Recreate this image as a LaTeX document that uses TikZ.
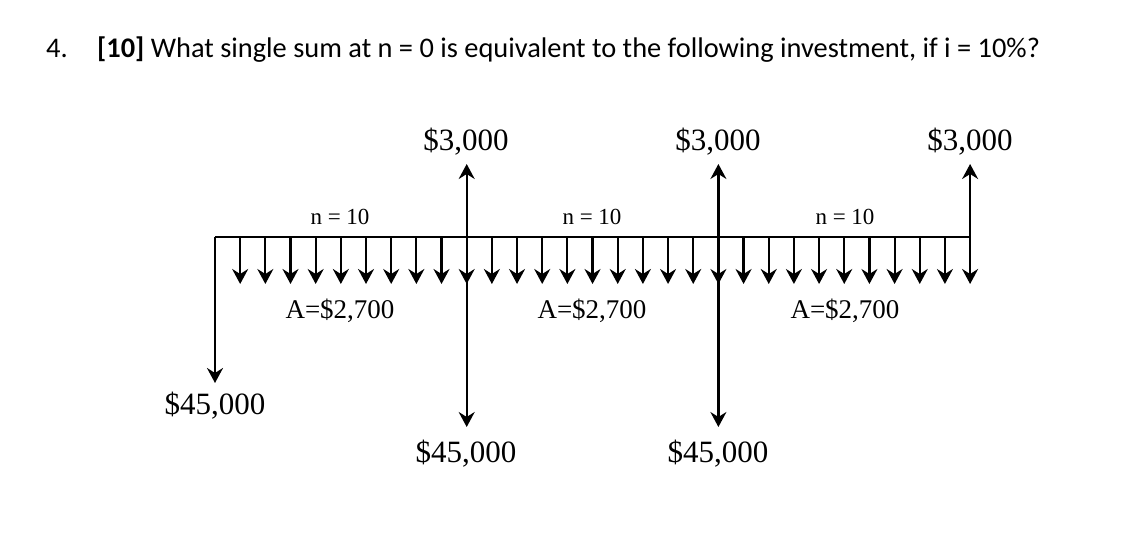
\documentclass[tikz,border=0pt]{standalone}
\usepackage{fontspec}
\setmainfont{Liberation Serif}
\newfontfamily\carlito{Carlito}
\usetikzlibrary{arrows.meta}
\begin{document}
\begin{tikzpicture}[x=1pt,y=-1pt,
  flow/.style={line width=2.2pt,-{Stealth[length=15pt,width=16pt,inset=5pt]}},
  axis/.style={line width=2pt},
  big/.style={font=\fontsize{31}{31}\selectfont,inner sep=0pt,anchor=base},
  mid/.style={font=\fontsize{27}{27}\selectfont,inner sep=0pt,anchor=base},
  small/.style={font=\fontsize{23}{23}\selectfont,inner sep=0pt,anchor=base},
  title/.style={font=\carlito\fontsize{28.4}{28.4}\selectfont,inner sep=0pt,anchor=base west}]
\useasboundingbox (0,0) rectangle (1146,559);
\fill[white] (0,0) rectangle (1146,559);
% title
\node[title] (num) at (46,58) {4.};
\node[title] (q) at (97,58) {\textbf{[10]} What single sum at n = 0 is equivalent to the following investment, if i = 10\%?};
% timeline points
\foreach \i in {0,...,30} {\coordinate (t\i) at ({215+25.17*\i},237);}
\draw[axis] (t0) -- (t30);
% small downward annuity arrows
\foreach \i in {1,...,30} {
  \coordinate (a\i) at ({215+25.17*\i},284);
  \draw[flow] (t\i) -- (a\i);
}
% big downward arrows
\coordinate (d0) at (215,383);
\draw[flow] (t0) -- (d0);
\coordinate (d10) at ({215+25.17*10},427);
\coordinate (d20) at ({215+25.17*20},427);
\draw[flow] (t10) -- (d10);
\draw[flow] (t20) -- (d20);
% upward arrows
\coordinate (u10) at ({215+25.17*10},164);
\coordinate (u20) at ({215+25.17*20},164);
\coordinate (u30) at ({215+25.17*30},164);
\draw[flow] (t10) -- (u10);
\draw[flow] (t20) -- (u20);
\draw[flow] (t30) -- (u30);
% labels
\node[big] (p1) at (466,150) {\$3,000};
\node[big] (p2) at (718,150) {\$3,000};
\node[big] (p3) at (970,150) {\$3,000};
\node[small] (n1) at (340,224) {n = 10};
\node[small] (n2) at (592,224) {n = 10};
\node[small] (n3) at (845,224) {n = 10};
\node[mid] (A1) at (340,318) {A=\$2,700};
\node[mid] (A2) at (592,318) {A=\$2,700};
\node[mid] (A3) at (845,318) {A=\$2,700};
\node[big] (c0) at (215,414) {\$45,000};
\node[big] (c1) at (466,462) {\$45,000};
\node[big] (c2) at (718,462) {\$45,000};
\end{tikzpicture}
\end{document}
